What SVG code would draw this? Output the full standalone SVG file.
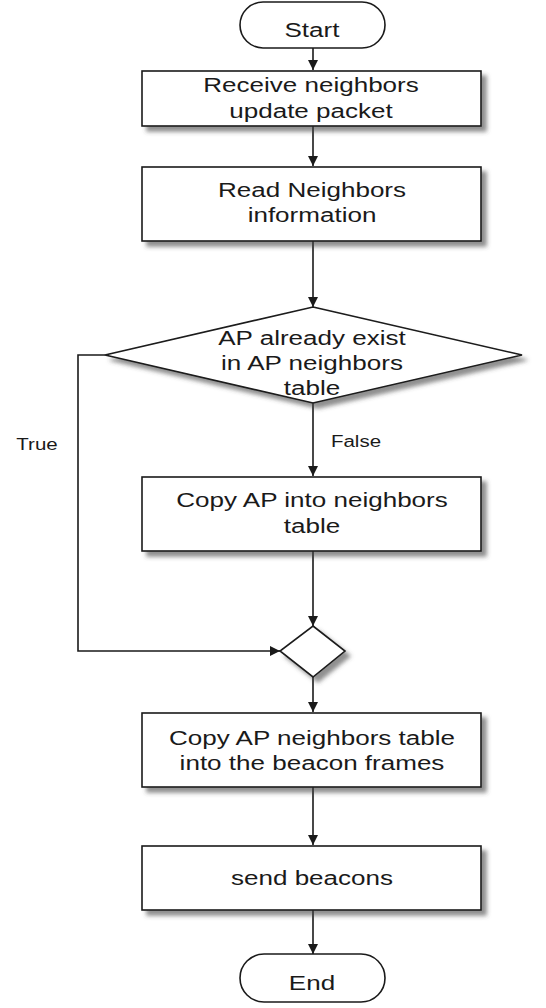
<svg xmlns="http://www.w3.org/2000/svg" width="546" height="1008" viewBox="0 0 546 1008">
<style>
.shape{fill:#fff;stroke:#1a1a1a;stroke-width:1.6;filter:url(#sh)}
.term{fill:#fff;stroke:#1a1a1a;stroke-width:1.6}
.t{font-family:"Liberation Sans",Arial,sans-serif;font-size:21px;fill:#1a1a1a;text-anchor:middle}
.lbl{font-family:"Liberation Sans",Arial,sans-serif;font-size:16px;fill:#1a1a1a;text-anchor:middle}
.c{fill:none;stroke:#1a1a1a;stroke-width:1.6;marker-end:url(#ah)}
</style>
<defs>
<filter id="sh" x="-10%" y="-10%" width="130%" height="140%">
<feDropShadow dx="5" dy="5" stdDeviation="2" flood-color="#444" flood-opacity="0.6"/>
</filter>
<marker id="ah" viewBox="0 0 10 10" refX="10" refY="5" markerWidth="10" markerHeight="10" markerUnits="userSpaceOnUse" orient="auto">
<path d="M0,0 L10,5 L0,10 z" fill="#1a1a1a"/>
</marker>
</defs>
<rect width="546" height="1008" fill="#fff"/>
<g id="connectors">
<path class="c" d="M313,48 V70"/>
<path class="c" d="M313,126 V166"/>
<path class="c" d="M313,241 V307"/>
<path class="c" d="M313,403 V476"/>
<path class="c" d="M313,551 V626"/>
<path class="c" d="M105,355 H78 V651 H280"/>
<path class="c" d="M313,677 V712"/>
<path class="c" d="M313,787 V845"/>
<path class="c" d="M313,910 V954"/>
<text class="lbl" transform="translate(356,447) scale(1.28,1)">False</text>
<text class="lbl" transform="translate(37,450) scale(1.28,1)">True</text>
</g>
<g id="start">
<rect class="term" x="240" y="2" width="145" height="46" rx="23" ry="23"/>
<text class="t" transform="translate(312,37) scale(1.24,1)">Start</text>
</g>
<g id="receive">
<rect class="shape" x="142" y="71" width="339" height="55"/>
<text class="t" transform="translate(311,92) scale(1.24,1)"><tspan x="0">Receive neighbors</tspan><tspan x="0" dy="26">update packet</tspan></text>
</g>
<g id="read">
<rect class="shape" x="142" y="167" width="339" height="74"/>
<text class="t" transform="translate(312,197) scale(1.24,1)"><tspan x="0">Read Neighbors</tspan><tspan x="0" dy="25">information</tspan></text>
</g>
<g id="decision">
<polygon class="shape" points="313,307 522,355 313,403 105,355"/>
<text class="t" transform="translate(312,345) scale(1.24,1)"><tspan x="0">AP already exist</tspan><tspan x="0" dy="25">in AP neighbors</tspan><tspan x="0" dy="25">table</tspan></text>
</g>
<g id="copy">
<rect class="shape" x="142" y="477" width="339" height="74"/>
<text class="t" transform="translate(312,507) scale(1.24,1)"><tspan x="0">Copy AP into neighbors</tspan><tspan x="0" dy="26">table</tspan></text>
</g>
<g id="merge">
<polygon class="shape" points="313,626 345,651 313,677 280,651"/>
</g>
<g id="copytable">
<rect class="shape" x="142" y="713" width="339" height="74"/>
<text class="t" transform="translate(312,745) scale(1.24,1)"><tspan x="0">Copy AP neighbors table</tspan><tspan x="0" dy="25">into the beacon frames</tspan></text>
</g>
<g id="send">
<rect class="shape" x="142" y="846" width="339" height="64"/>
<text class="t" transform="translate(312,885) scale(1.24,1)">send beacons</text>
</g>
<g id="end">
<rect class="term" x="240" y="954" width="145" height="48" rx="24" ry="24"/>
<text class="t" transform="translate(312,990) scale(1.24,1)">End</text>
</g>
</svg>
